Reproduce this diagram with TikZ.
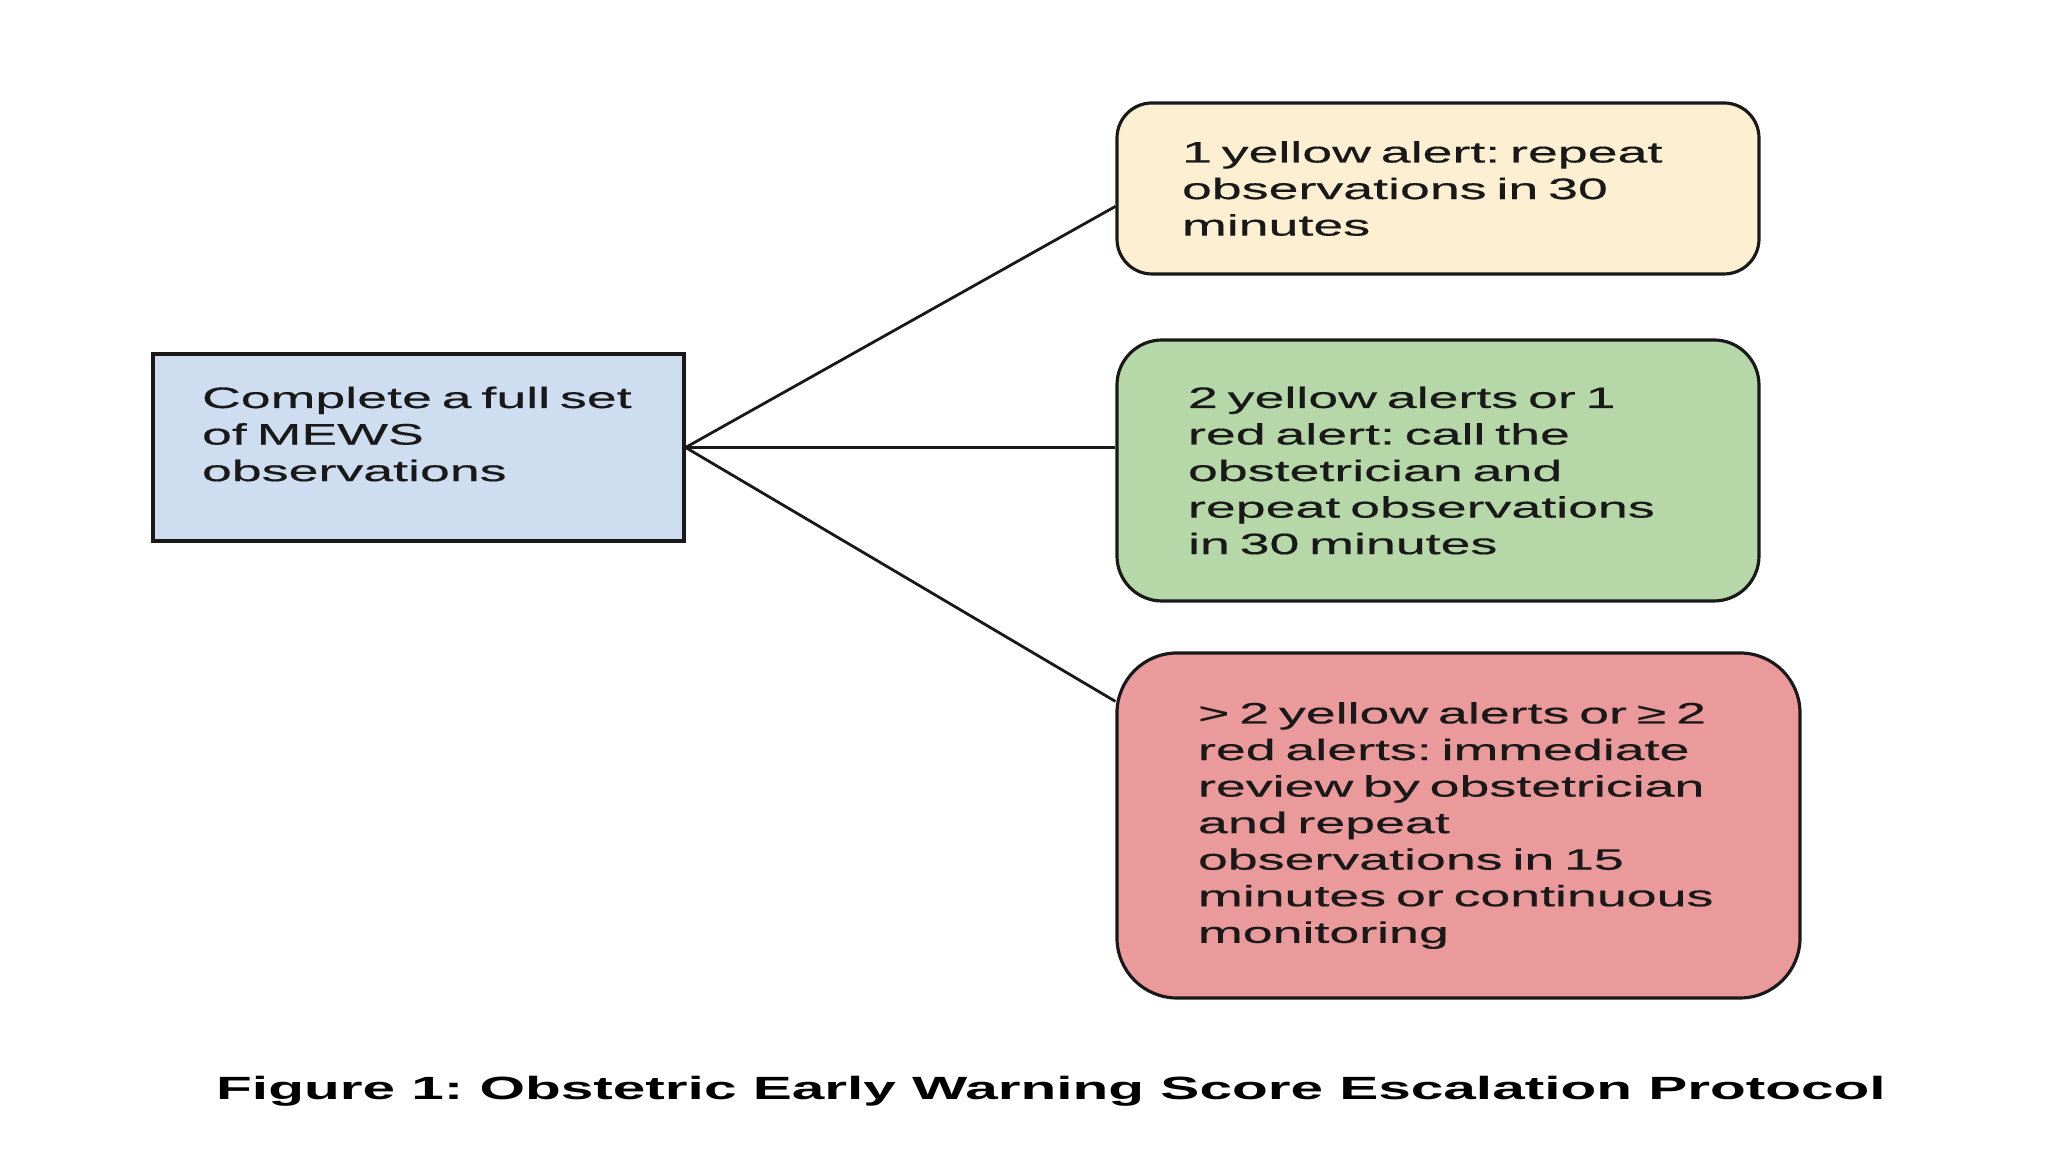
\documentclass[tikz,border=0pt]{standalone}
\usepackage{fontspec}
\setmainfont[FakeStretch=1.82, UprightFeatures={FakeBold=0.5}]{Liberation Sans}
\definecolor{obsblue}{HTML}{CFDDF0}
\definecolor{alertyellow}{HTML}{FDF0D2}
\definecolor{alertgreen}{HTML}{B6D7A8}
\definecolor{alertred}{HTML}{EA9A9A}
\frenchspacing
\begin{document}
\begin{tikzpicture}[
	box/.style={draw=black!90, line width=0.9pt, align=left, text=black!90,
		font=\fontsize{8.4}{10.4}\selectfont, inner xsep=0pt, inner ysep=0pt},
	link/.style={draw=black!90, line width=0.8pt}]
	\useasboundingbox (0, 0) rectangle (20.48, 11.52);
	
	\node[box, fill=obsblue, minimum width=5.31cm, minimum height=1.87cm] (mews) at (4.185, 7.045) {};
	\node[box, draw=none, anchor=west, text width=4.6cm] (mewstext) at ([xshift=0.49cm, yshift=0.135cm]mews.west) {Complete a full set\\of MEWS\\observations};
	
	\node[box, fill=alertyellow, rounded corners=0.35cm, minimum width=6.42cm, minimum height=1.71cm, text width=5.12cm] (yellow) at (14.38, 9.635) {1 yellow alert: repeat\\observations in 30\\minutes};
	\node[box, fill=alertgreen, rounded corners=0.45cm, minimum width=6.42cm, minimum height=2.61cm, text width=5.0cm] (green) at (14.38, 6.815) {2 yellow alerts or 1\\red alert: call the\\obstetrician and\\repeat observations\\in 30 minutes};
	\node[box, fill=alertred, rounded corners=0.6cm, minimum width=6.83cm, minimum height=3.45cm, text width=5.21cm] (red) at (14.585, 3.265) {> 2 yellow alerts or ≥ 2\\red alerts: immediate\\review by obstetrician\\and repeat\\observations in 15\\minutes or continuous\\monitoring};
	
	\draw[link] (mews.east) -- ([yshift=-1.05cm]yellow.north west);
	\draw[link] (mews.east) -- (mews.east -| green.west);
	\draw[link] (mews.east) -- ([yshift=-0.5cm]red.north west);
	
	\node[font=\fontsize{9.15}{11}\selectfont\bfseries] (caption) at (10.51, 0.61) {Figure 1: Obstetric Early Warning Score Escalation Protocol};
\end{tikzpicture}
\end{document}
